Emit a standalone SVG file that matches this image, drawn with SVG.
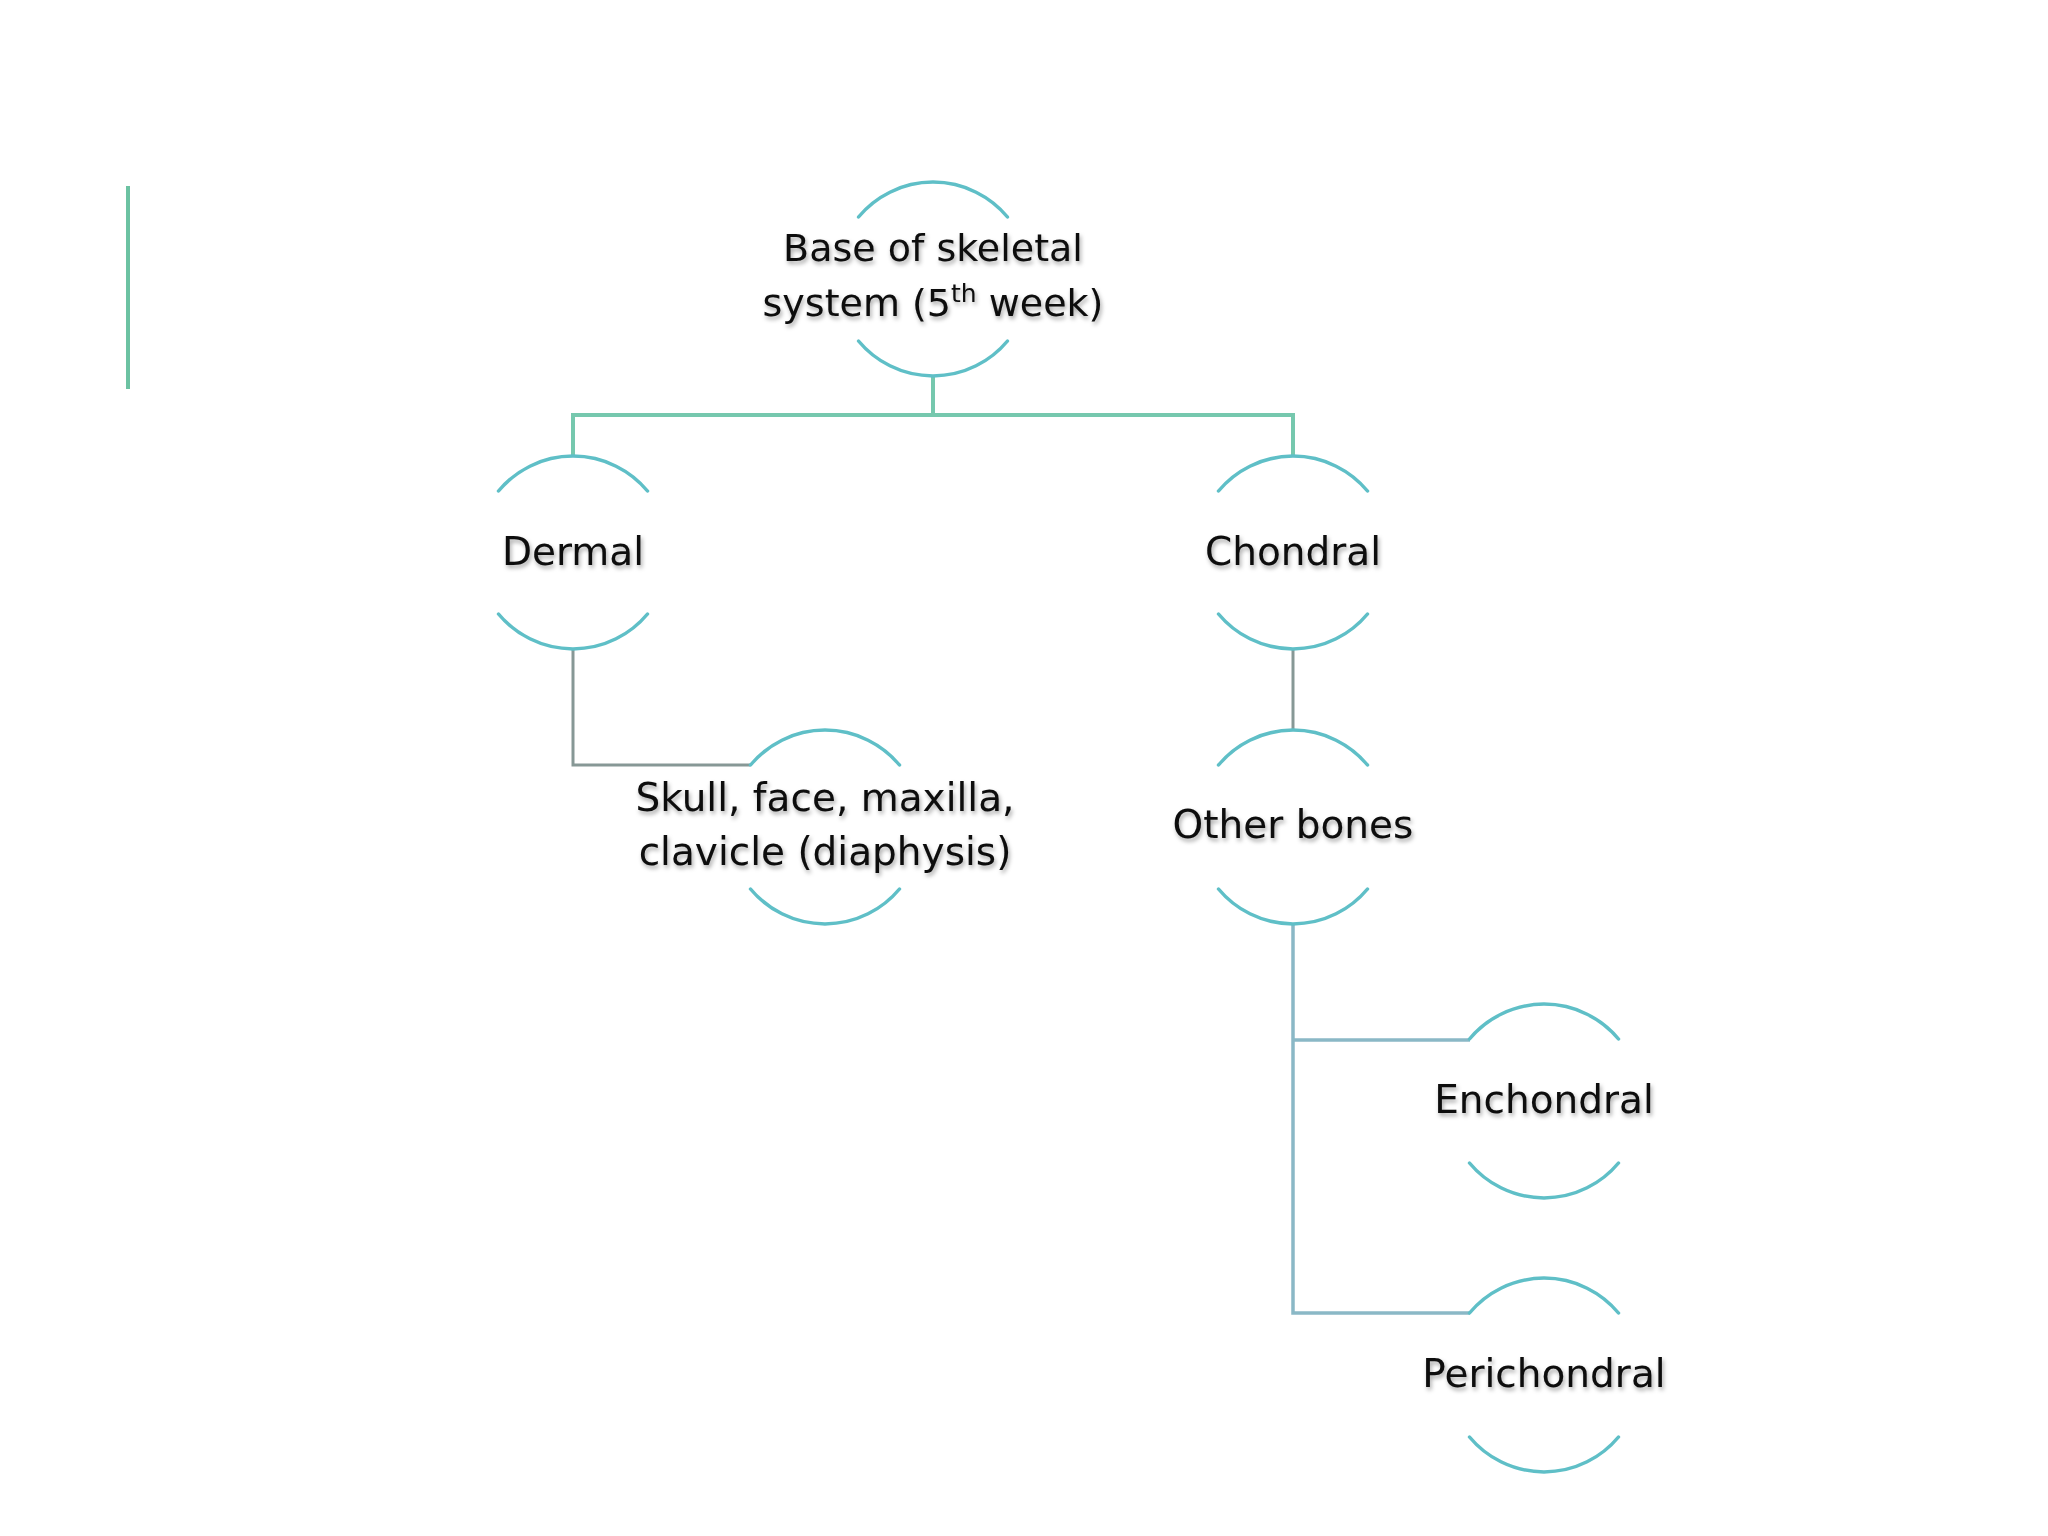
<svg xmlns="http://www.w3.org/2000/svg" width="2048" height="1536" viewBox="0 0 2048 1536">
<defs>
<filter id="sh" x="-10%" y="-30%" width="120%" height="160%">
<feDropShadow dx="1.5" dy="3" stdDeviation="2.2" flood-color="#000" flood-opacity="0.35"/>
</filter>
<style>
.arc{fill:none;stroke:#5fbfc7;stroke-width:3.5;stroke-linecap:round}
.lbl{font-family:"DejaVu Sans","Liberation Sans",sans-serif;font-size:39px;fill:#0a0a0a;text-anchor:middle;filter:url(#sh)}
.sm{font-size:38px}
.c1{fill:none;stroke:#76c8ae;stroke-width:4}
.c2{fill:none;stroke:#879896;stroke-width:3}
.c3{fill:none;stroke:#8ab8c6;stroke-width:3.5}
</style>
</defs>
<rect width="2048" height="1536" fill="#ffffff"/>
<line x1="128" y1="186" x2="128" y2="389" stroke="#6cc2a2" stroke-width="4"/>
<g id="connectors">
<path class="c1" d="M933,376 V415 M573,455 V415 H1293 V455"/>
<path class="c2" d="M573,650 V765 H750"/>
<path class="c2" d="M1293,650 V731"/>
<path class="c3" d="M1293,923 V1313 H1470 M1293,1040 H1470"/>
</g>
<g id="node-base">
<path class="arc" d="M858.5,217 A97,97 0 0 1 1007.5,217"/>
<path class="arc" d="M858.5,341 A97,97 0 0 0 1007.5,341"/>
<text class="lbl sm" x="933" y="261">Base of skeletal</text>
<text class="lbl sm" x="933" y="316">system (5<tspan font-size="25" dy="-14">th</tspan><tspan dy="14"> week)</tspan></text>
</g>
<g id="node-dermal">
<path class="arc" d="M498.5,491 A97,97 0 0 1 647.5,491"/>
<path class="arc" d="M498.5,614 A97,97 0 0 0 647.5,614"/>
<text class="lbl" x="573" y="565">Dermal</text>
</g>
<g id="node-chondral">
<path class="arc" d="M1218.5,491 A97,97 0 0 1 1367.5,491"/>
<path class="arc" d="M1218.5,614 A97,97 0 0 0 1367.5,614"/>
<text class="lbl" x="1293" y="565">Chondral</text>
</g>
<g id="node-skull">
<path class="arc" d="M750.5,765 A97,97 0 0 1 899.5,765"/>
<path class="arc" d="M750.5,889 A97,97 0 0 0 899.5,889"/>
<text class="lbl" x="825" y="811">Skull, face, maxilla,</text>
<text class="lbl" x="825" y="865">clavicle (diaphysis)</text>
</g>
<g id="node-other">
<path class="arc" d="M1218.5,765 A97,97 0 0 1 1367.5,765"/>
<path class="arc" d="M1218.5,889 A97,97 0 0 0 1367.5,889"/>
<text class="lbl" x="1293" y="838">Other bones</text>
</g>
<g id="node-enchondral">
<path class="arc" d="M1469.5,1039 A97,97 0 0 1 1618.5,1039"/>
<path class="arc" d="M1469.5,1163 A97,97 0 0 0 1618.5,1163"/>
<text class="lbl" x="1544" y="1113">Enchondral</text>
</g>
<g id="node-perichondral">
<path class="arc" d="M1469.5,1313 A97,97 0 0 1 1618.5,1313"/>
<path class="arc" d="M1469.5,1437 A97,97 0 0 0 1618.5,1437"/>
<text class="lbl" x="1544" y="1387">Perichondral</text>
</g>
</svg>
